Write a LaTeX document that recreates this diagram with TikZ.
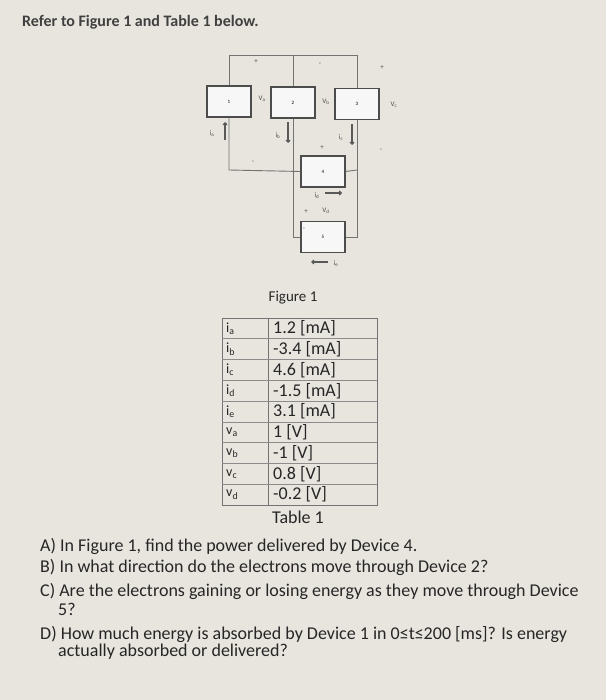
\documentclass[tikz,border=0pt]{standalone}
\usepackage{fontspec}
\setmainfont{Carlito}
\usetikzlibrary{arrows.meta}
\begin{document}
\begin{tikzpicture}[x=1pt,y=-1pt,
  wire/.style={draw=black!55,line width=0.9pt},
  dev/.style={draw=black!70,line width=1.2pt,fill=black!3,minimum width=44pt,minimum height=31pt,inner sep=0pt,font=\fontsize{5}{6}\selectfont},
  lab/.style={font=\fontsize{7}{8}\selectfont,text=black!70,inner sep=0pt},
  arr/.style={draw=black!65,line width=1.2pt,-{Straight Barb[length=2pt]}},
  q/.style={anchor=west,font=\fontsize{18}{20}\selectfont,text=black!85,inner sep=0pt},
  cell/.style={font=\fontsize{18}{20}\selectfont,text=black!85,inner sep=0pt,anchor=west}]
\useasboundingbox[fill={rgb,255:red,232;green,229;blue,222}] (0,0) rectangle (606,700);
\node[anchor=west,inner sep=0pt,font=\bfseries\fontsize{16}{18}\selectfont,text=black!75] (title) at (22,22) {Refer to Figure 1 and Table 1 below.};
% devices
\node[dev] (d1) at (229,101.5) {1};
\node[dev] (d2) at (293,102.5) {2};
\node[dev] (d3) at (357,104) {3};
\node[dev] (d4) at (323,171.5) {4};
\node[dev] (d5) at (323,237) {5};
\coordinate (tl) at (229,55); \coordinate (tm) at (293,55); \coordinate (tr) at (357,55);
\coordinate (b1) at (229,170); \coordinate (b3) at (357,170);
\coordinate (c2) at (293,237); \coordinate (c3) at (357,237);
\draw[wire] (d1.north) -- (tl) -- (tr) -- (d3.north);
\draw[wire] (tm) -- (d2.north);
\draw[wire] (d1.south) -- (b1) -- (d4.west);
\draw[wire] (d4.east) -- (b3);
\draw[wire] (d3.south) -- (c3) -- (d5.east);
\draw[wire] (d2.south) -- (c2) -- (d5.west);
% labels
\node[lab] (p1) at (256,62) {+};
\node[lab] (m1) at (320,64) {-};
\node[lab] (p2) at (382,68) {+};
\node[lab] (va) at (262,99) {V\textsubscript{a}};
\node[lab] (vb) at (326,102) {V\textsubscript{b}};
\node[lab] (vc) at (394,105) {V\textsubscript{c}};
\node[lab] (m2) at (253,162) {-};
\node[lab] (p3) at (322,148) {+};
\node[lab] (m3) at (381,150) {-};
\coordinate (a1) at (225,140); \coordinate (a2) at (225,122);
\draw[arr] (a1) -- (a2); \node[lab] (ia) at (212,134) {i\textsubscript{a}};
\coordinate (b1a) at (288,122); \coordinate (b2a) at (288,143);
\draw[arr] (b1a) -- (b2a); \node[lab] (ib) at (278,136) {i\textsubscript{b}};
\coordinate (c1a) at (352,124); \coordinate (c2a) at (352,145);
\draw[arr] (c1a) -- (c2a); \node[lab] (ic) at (341,138) {i\textsubscript{c}};
\coordinate (d1a) at (325,193); \coordinate (d2a) at (342,193);
\draw[arr] (d1a) -- (d2a); \node[lab] (id) at (317,196) {i\textsubscript{d}};
\node[lab] (p4) at (306,212) {+};
\node[lab] (vd) at (326,211) {V\textsubscript{d}};
\node[lab] (m4) at (304,229) {-};
\coordinate (e1a) at (328,262); \coordinate (e2a) at (311,262);
\draw[arr] (e1a) -- (e2a); \node[lab] (ie) at (336,264) {i\textsubscript{e}};
\node[cell,anchor=center,font=\fontsize{15}{17}\selectfont] (fig) at (293,298) {Figure 1};
% table
\draw[black!55,line width=0.8pt] (222,318) rectangle (377,505);
\draw[black!55,line width=0.8pt] (268,318) -- (268,505);
\foreach \i in {1,...,8} \draw[black!45,line width=0.7pt] (222,318+\i*20.78) -- (377,318+\i*20.78);
\foreach \n/\a/\b [count=\k from 0] in {ia/i\textsubscript{a}/{1.2 [mA]},ib/i\textsubscript{b}/{-3.4 [mA]},ic/i\textsubscript{c}/{4.6 [mA]},id/i\textsubscript{d}/{-1.5 [mA]},ie/i\textsubscript{e}/{3.1 [mA]},va/v\textsubscript{a}/{1 [V]},vb/v\textsubscript{b}/{-1 [V]},vc/v\textsubscript{c}/{0.8 [V]},vd/v\textsubscript{d}/{-0.2 [V]}}{
  \node[cell,font=\fontsize{14}{15}\selectfont] (t\n) at (226,328.4+\k*20.78) {\a};
  \node[cell] (u\n) at (273,328.4+\k*20.78) {\b};
}
\node[cell,anchor=center] (tab) at (298,517) {Table 1};
\node[q] (qa) at (40,546) {A) In Figure 1, find the power delivered by Device 4.};
\node[q] (qb) at (40,567) {B) In what direction do the electrons move through Device 2?};
\node[q] (qc) at (40,591) {C) Are the electrons gaining or losing energy as they move through Device};
\node[q] (qc2) at (58,609) {5?};
\node[q] (qd) at (40,634) {D) How much energy is absorbed by Device 1 in 0≤t≤200 [ms]? Is energy};
\node[q] (qd2) at (58,652) {actually absorbed or delivered?};
\end{tikzpicture}
\end{document}
